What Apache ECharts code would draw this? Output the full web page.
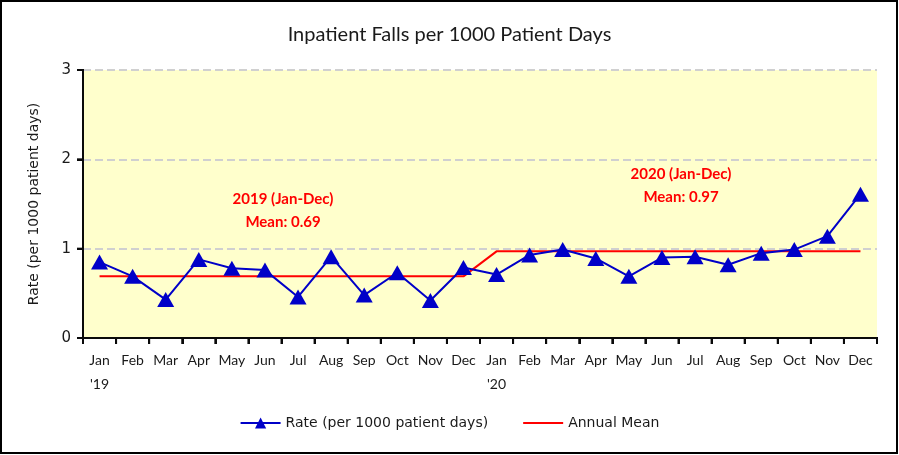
<!DOCTYPE html>
<html>
<head>
<meta charset="utf-8">
<script src="https://cdn.jsdelivr.net/npm/echarts@6/dist/echarts.min.js"></script>
<style>
html,body{margin:0;padding:0;background:#fff;}
#c{width:899px;height:455px;}
</style>
</head>
<body>
<div id="c"></div>
<script>
var categories = ["Jan '19","Feb '19","Mar '19","Apr '19","May '19","Jun '19","Jul '19","Aug '19","Sep '19","Oct '19","Nov '19","Dec '19",
                  "Jan '20","Feb '20","Mar '20","Apr '20","May '20","Jun '20","Jul '20","Aug '20","Sep '20","Oct '20","Nov '20","Dec '20"];
var rate = [0.85,0.69,0.43,0.88,0.78,0.76,0.46,0.91,0.48,0.73,0.42,0.79,
            0.71,0.93,0.99,0.89,0.69,0.90,0.91,0.82,0.95,0.99,1.14,1.61];
var annualMean = [0.69,0.69,0.69,0.69,0.69,0.69,0.69,0.69,0.69,0.69,0.69,0.69,
                  0.97,0.97,0.97,0.97,0.97,0.97,0.97,0.97,0.97,0.97,0.97,0.97];
var yTicks = [0,1,2,3];
var titleText = "Inpatient Falls per 1000 Patient Days";
var yAxisTitle = "Rate (per 1000 patient days)";
var seriesNames = ["Rate (per 1000 patient days)","Annual Mean"];
var notes = [["2019 (Jan-Dec)","Mean: 0.69"],["2020 (Jan-Dec)","Mean: 0.97"]];

var chart = echarts.init(document.getElementById('c'));
var noteStyle = {color:'#FF0000',fontFamily:'Lato',fontWeight:'bold',fontSize:15,lineHeight:23};
var axisColor = '#0a0a0a';
chart.setOption({
  animation:false,
  backgroundColor:'#fff',
  title:[
    {text:titleText,left:'center',top:20,
     textStyle:{fontFamily:'Lato',fontSize:20,fontWeight:'normal',color:'#1a1a1a'}},
    {text:notes[0][0]+"\n"+notes[0][1],left:283,top:188,textAlign:'center',padding:0,textStyle:noteStyle},
    {text:notes[1][0]+"\n"+notes[1][1],left:681,top:163,textAlign:'center',padding:0,textStyle:noteStyle}
  ],
  grid:{left:83,right:22,top:70,bottom:117,show:true,backgroundColor:'#FFFFCC',borderWidth:0},
  legend:{bottom:20,left:'center',itemGap:34,itemWidth:40,itemHeight:14,
    textStyle:{fontFamily:'DejaVu Sans',fontSize:14,color:'#1a1a1a'},
    data:[{name:seriesNames[0]},{name:seriesNames[1],itemStyle:{opacity:0}}]},
  xAxis:{type:'category',data:categories,boundaryGap:true,
    axisLine:{show:true,lineStyle:{color:axisColor,width:2}},
    axisTick:{show:true,interval:0,length:6,lineStyle:{color:axisColor,width:2}},
    axisLabel:{interval:0,fontFamily:'Lato',fontSize:14,color:'#1a1a1a',lineHeight:24,
      verticalAlign:'top',align:'center',margin:10,
      formatter:function(v){var p=v.split(' ');return p[0]==='Jan'?p[0]+'\n'+p[1]:p[0];}}},
  yAxis:{type:'value',min:yTicks[0],max:yTicks[yTicks.length-1],interval:1,name:yAxisTitle,nameLocation:'middle',nameGap:42,
    nameTextStyle:{fontFamily:'DejaVu Sans',fontSize:14,color:'#1a1a1a'},
    axisLine:{show:true,lineStyle:{color:axisColor,width:2}},
    axisTick:{show:true,length:6,lineStyle:{color:axisColor,width:2}},
    axisLabel:{fontFamily:'DejaVu Sans',fontSize:15,color:'#1a1a1a',margin:12},
    splitLine:{show:true,lineStyle:{color:'#D0D0D0',type:'dashed',width:2}}},
  series:[
    {name:seriesNames[0],type:'line',data:rate,symbol:'triangle',symbolSize:[17,15],
     lineStyle:{color:'#0000C8',width:2},itemStyle:{color:'#0000C8'},z:3},
    {name:seriesNames[1],type:'line',data:annualMean,symbol:'none',showSymbol:false,
     lineStyle:{color:'#FF0000',width:2},z:2}
  ]
});

// Axis lines and ticks derived from the chart's own scales (overlaps the native ones exactly if they render)
var gr = [{type:'rect',shape:{x:1,y:1,width:896,height:452},style:{fill:'none',stroke:'#000',lineWidth:2},silent:true}];
var x0 = chart.convertToPixel({xAxisIndex:0}, 0);
var x1 = chart.convertToPixel({xAxisIndex:0}, 1);
var band = x1 - x0;
var yBottom = chart.convertToPixel({yAxisIndex:0}, yTicks[0]);
var yTop = chart.convertToPixel({yAxisIndex:0}, yTicks[yTicks.length-1]);
var left = x0 - band/2, right = chart.convertToPixel({xAxisIndex:0}, categories.length-1) + band/2;
var ls = {stroke:axisColor,lineWidth:2};
gr.push({type:'line',z:50,silent:true,shape:{x1:left,y1:yBottom,x2:right+1,y2:yBottom},style:ls});
gr.push({type:'line',z:50,silent:true,shape:{x1:left,y1:yTop-1,x2:left,y2:yBottom},style:ls});
for (var i=0;i<=categories.length;i++){
  var xb = left + i*band;
  gr.push({type:'line',z:50,silent:true,shape:{x1:xb,y1:yBottom,x2:xb,y2:yBottom+6},style:ls});
}
yTicks.forEach(function(t){
  var yy = chart.convertToPixel({yAxisIndex:0}, t);
  gr.push({type:'line',z:50,silent:true,shape:{x1:left-6,y1:yy,x2:left,y2:yy},style:ls});
});
chart.setOption({graphic:gr});
</script>
</body>
</html>
